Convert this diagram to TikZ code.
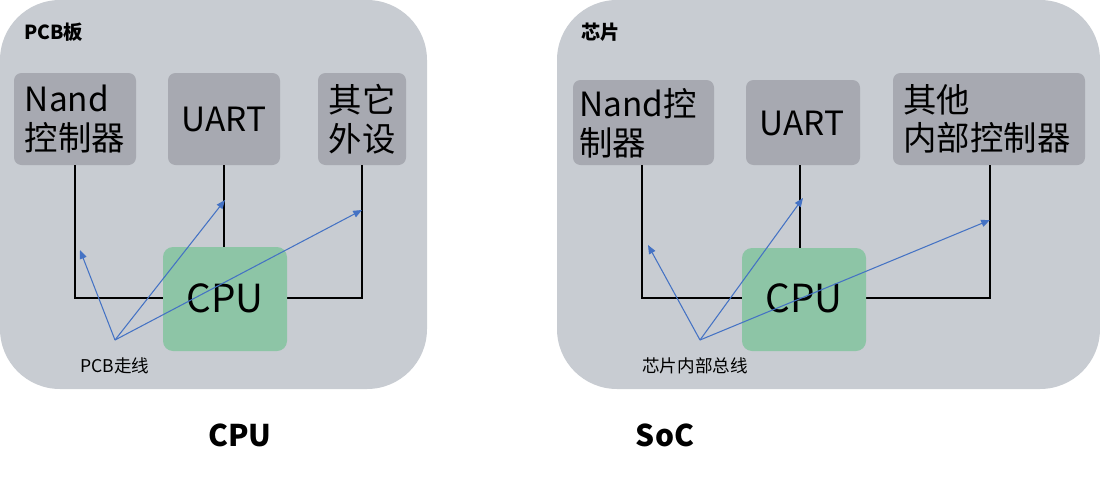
\documentclass[tikz,border=0pt]{standalone}
\usepackage{fontspec}
\setmainfont{Noto Sans CJK SC}
\usetikzlibrary{arrows.meta}
\definecolor{panel}{HTML}{C8CCD2}
\definecolor{inner}{HTML}{A7A9B1}
\definecolor{cpug}{HTML}{8DC5A6}
\definecolor{arr}{HTML}{4472C4}
\begin{document}
\begin{tikzpicture}[x=0.02cm,y=-0.02cm,
  panelbox/.style={fill=panel,rounded corners=1.2cm,draw=none},
  ibox/.style={fill=inner,rounded corners=0.15cm,draw=none,font=\fontsize{19}{22}\selectfont,align=left,inner sep=0pt},
  cpubox/.style={fill=cpug,rounded corners=0.2cm,draw=none,font=\fontsize{22}{26}\selectfont,inner sep=0pt},
  bus/.style={line width=1.7pt,black},
  pt/.style={arr,line width=0.6pt,-{Triangle[length=5pt,width=4pt]}},
  small/.style={font=\fontsize{10}{12}\selectfont},
  ttl/.style={font=\fontsize{11}{13}\selectfont\bfseries\itshape,anchor=west}]
\useasboundingbox (0,0) rectangle (1100,477);
% left panel
\fill[panelbox] (0,0) rectangle (427,389);
\node[ttl] (t1) at (18,32) {PCB板};
\path[fill=inner,rounded corners=0.15cm] (14,73) rectangle (136,165);
\node[ibox,fill=none] (n1) at (75,119) {Nand\\控制器};
\path[fill=inner,rounded corners=0.15cm] (168,73) rectangle (280,165);
\node[ibox,fill=none] (u1) at (224,119) {UART};
\path[fill=inner,rounded corners=0.15cm] (318,73) rectangle (406,165);
\node[ibox,fill=none] (o1) at (362,119) {其它\\外设};
\coordinate (n1b) at (75,165); \coordinate (u1b) at (224,165); \coordinate (o1b) at (362,165);
\draw[bus] (n1b) -- (75,298) -- (362,298) -- (o1b);
\draw[bus] (u1b) -- (224,250);
\path[fill=cpug,rounded corners=0.2cm] (163,247) rectangle (287,351);
\node[cpubox,fill=none] (c1) at (225,298) {CPU};
\coordinate (s1) at (115,340);
\draw[pt] (s1) -- (80,250);
\draw[pt] (s1) -- (225,200);
\draw[pt] (s1) -- (362,210);
\node[small] (l1) at (115,366) {PCB走线};
% right panel
\fill[panelbox] (557,0) rectangle (1100,389);
\node[ttl] (t2) at (575,32) {芯片};
\path[fill=inner,rounded corners=0.15cm] (573,80) rectangle (714,165);
\node[ibox,fill=none] (n2) at (638,123) {Nand控\\制器};
\path[fill=inner,rounded corners=0.15cm] (746,80) rectangle (860,165);
\node[ibox,fill=none] (u2) at (802,123) {UART};
\path[fill=inner,rounded corners=0.15cm] (893,73) rectangle (1085,165);
\node[ibox,fill=none] (o2) at (987,119) {其他\\内部控制器};
\coordinate (n2b) at (642,165); \coordinate (u2b) at (800,165); \coordinate (o2b) at (990,165);
\draw[bus] (n2b) -- (642,298) -- (990,298) -- (o2b);
\draw[bus] (u2b) -- (800,250);
\path[fill=cpug,rounded corners=0.2cm] (742,248) rectangle (866,351);
\node[cpubox,fill=none] (c2) at (804,298) {CPU};
\coordinate (s2) at (700,340);
\draw[pt] (s2) -- (648,245);
\draw[pt] (s2) -- (803,198);
\draw[pt] (s2) -- (990,220);
\node[small] (l2) at (695,366) {芯片内部总线};
% captions
\node[font=\fontsize{17}{20}\selectfont\bfseries] (cap1) at (240,435) {CPU};
\node[font=\fontsize{17}{20}\selectfont\bfseries] (cap2) at (665,435) {SoC};
\end{tikzpicture}
\end{document}
